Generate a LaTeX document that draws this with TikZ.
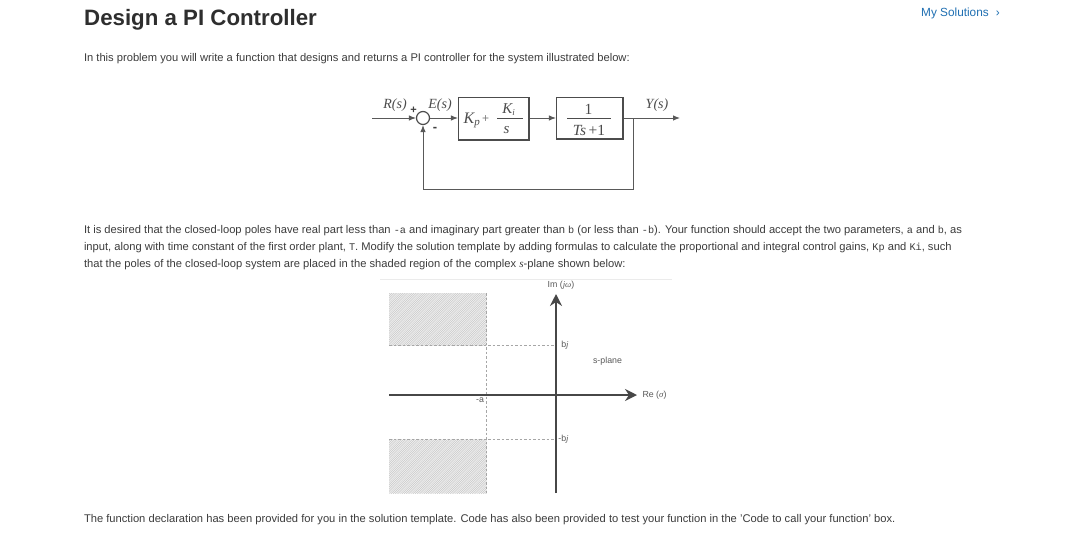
\documentclass[tikz,border=0pt]{standalone}
\usepackage{fontspec}
\setmainfont{Liberation Sans}
\setmonofont{Liberation Mono}
\newfontfamily\serifface{Liberation Serif}
\usetikzlibrary{arrows.meta,calc}
\definecolor{bodytext}{HTML}{3C3C3C}
\definecolor{linkblue}{HTML}{1F6FB2}
\newcommand{\cd}[1]{{\ttfamily\fontsize{10.2}{12}\selectfont #1}}
\tikzset{
  bodyline/.style={anchor=base west,inner sep=0pt,outer sep=0pt,text=bodytext,font=\fontsize{11.17}{13}\selectfont},
  blockbox/.style={draw=black!70,line width=1.2pt,inner sep=0pt,fill=white},
  sig/.style={draw=black!65,line width=.9pt},
  sigarrow/.style={sig,-{Latex[length=7pt,width=5.5pt]}},
  blocklabel/.style={inner sep=0pt,text=black!70,font=\serifface\itshape\fontsize{14}{16}\selectfont},
  axis/.style={draw=black!72,line width=2.3pt},
  guide/.style={draw=black!35,line width=.6pt,dash pattern=on 2.5pt off 2pt},
  planelabel/.style={inner sep=0pt,text=black!65,font=\fontsize{8.8}{10}\selectfont},
  hatchline/.style={draw=black!22,line width=.5pt},
}
\begin{document}
\begin{tikzpicture}[x=1pt,y=-1pt]
\useasboundingbox (0,0) rectangle (1071,558);
\fill[white] (0,0) rectangle (1071,558);
% heading
\node[anchor=base west,inner sep=0pt,text=black!82,font=\bfseries\fontsize{22.27}{25}\selectfont] (title) at (84,25) {Design a PI Controller};
\node[anchor=base west,inner sep=0pt,text=linkblue,font=\fontsize{11.8}{14}\selectfont] (sol) at (921,16) {My Solutions \,\,›};
% body text
\node[bodyline] (intro) at (84,61) {In this problem you will write a function that designs and returns a PI controller for the system illustrated below:};
\node[bodyline] (p1) at (84,233) {It is desired that the closed-loop poles have real part less than \cd{-a} and imaginary part greater than \cd{b} (or less than \cd{-b}). Your function should accept the two parameters, \cd{a} and \cd{b}, as};
\node[bodyline] (p2) at (84,250) {input, along with time constant of the first order plant, \cd{T}. Modify the solution template by adding formulas to calculate the proportional and integral control gains, \cd{Kp} and \cd{Ki}, such};
\node[bodyline] (p3) at (84,267) {that the poles of the closed-loop system are placed in the shaded region of the complex {\serifface\itshape s}-plane shown below:};
\node[bodyline] (outro) at (84,522) {The function declaration has been provided for you in the solution template. Code has also been provided to test your function in the 'Code to call your function' box.};
% block diagram
\coordinate (in) at (372,118);
\node[circle,draw=black!70,line width=1.2pt,minimum size=13pt,inner sep=0pt] (sum) at (423,118) {};
\node[blockbox,minimum width=70.5pt,minimum height=42.5pt] (ctrl) at (493.75,118.75) {};
\node[blockbox,minimum width=66.5pt,minimum height=41.5pt] (plant) at (589.75,118.25) {};
\coordinate (branch) at (633,118);
\coordinate (out) at (680,118);
\coordinate (fbr) at (633,189);
\coordinate (fbl) at (423,189);
\draw[sigarrow] (in) -- (sum);
\draw[sigarrow] (sum) -- (ctrl.west |- sum);
\draw[sigarrow] (ctrl.east |- sum) -- (plant.west |- sum);
\draw[sigarrow] (plant.east |- branch) -- (out);
\draw[sig] (branch) -- (fbr) -- (fbl);
\draw[sigarrow] (fbl) -- (sum);
\node[blocklabel] (lr) at (395,105) {R(s)};
\node[inner sep=0pt,text=black!75,font=\bfseries\fontsize{11}{12}\selectfont] (lplus) at (413.5,110) {+};
\node[blocklabel] (le) at (440,105) {E(s)};
\node[inner sep=0pt,text=black!75,font=\bfseries\fontsize{13}{13}\selectfont] (lminus) at (435,129.5) {-};
\node[blocklabel] (ly) at (657,105) {Y(s)};
\node[anchor=base west,inner sep=0pt,text=black!70,font=\serifface\itshape\fontsize{16}{18}\selectfont] (kp) at (463.5,123) {K\raisebox{-2.5pt}{\fontsize{11}{12}\selectfont p}};
\node[inner sep=0pt,text=black!50,font=\fontsize{12}{14}\selectfont] (kplus) at (485.5,119.5) {+};
\node[anchor=base,inner sep=0pt,text=black!70,font=\serifface\itshape\fontsize{15}{17}\selectfont] (ki) at (508.5,113) {K\raisebox{-2pt}{\fontsize{9}{10}\selectfont i}};
\node[anchor=base,inner sep=0pt,text=black!70,font=\serifface\itshape\fontsize{15}{17}\selectfont] (ks) at (506.5,133.5) {s};
\draw[black!70,line width=.8pt] (497,118) coordinate (ka) -- (523,118) coordinate (kb);
\node[anchor=base,inner sep=0pt,text=black!70,font=\serifface\fontsize{15.5}{18}\selectfont] (pone) at (588.5,114) {1};
\node[anchor=base,inner sep=0pt,text=black!70,font=\serifface\fontsize{15.5}{18}\selectfont] (pden) at (589,135) {{\itshape Ts\,}+1};
\draw[black!70,line width=.8pt] (567,118.5) coordinate (pa) -- (611,118.5) coordinate (pb);
% s-plane
\draw[black!8,line width=.6pt] (380,279.5) -- (672,279.5);
\begin{scope}
\clip (389,293) rectangle (486.5,345.5);
\fill[black!5] (389,293) rectangle (486.5,345.5);
\foreach \k in {-60,-57.8,...,110} \draw[hatchline] (389+\k-5,350) -- (389+\k+55,290);
\end{scope}
\begin{scope}
\clip (389,439.5) rectangle (486.5,493);
\fill[black!5] (389,439.5) rectangle (486.5,493);
\foreach \k in {-60,-57.8,...,110} \draw[hatchline] (389+\k-5,497) -- (389+\k+55,437);
\end{scope}
\draw[guide] (486.5,293) -- (486.5,493);
\draw[guide] (389,345.5) -- (555,345.5);
\draw[guide] (389,439.5) -- (555,439.5);
\draw[axis,-{Stealth[length=12pt,width=12pt,inset=4pt]}] (389,395) coordinate (rl) -- (637,395) coordinate (rr);
\draw[axis,-{Stealth[length=12pt,width=12pt,inset=4pt]}] (556,493) coordinate (ib) -- (556,294) coordinate (it);
\node[planelabel] (limag) at (561,285.5) {Im ({\serifface\itshape jω})};
\node[planelabel] (lb) at (565,345.5) {b{\serifface\itshape j}};
\node[planelabel] (lplane) at (607.5,361) {s-plane};
\node[planelabel] (lre) at (654.5,395) {Re ({\serifface\itshape σ})};
\node[planelabel] (la) at (480,400) {-a};
\node[planelabel] (lnb) at (563.5,439.5) {-b{\serifface\itshape j}};
\end{tikzpicture}
\end{document}
